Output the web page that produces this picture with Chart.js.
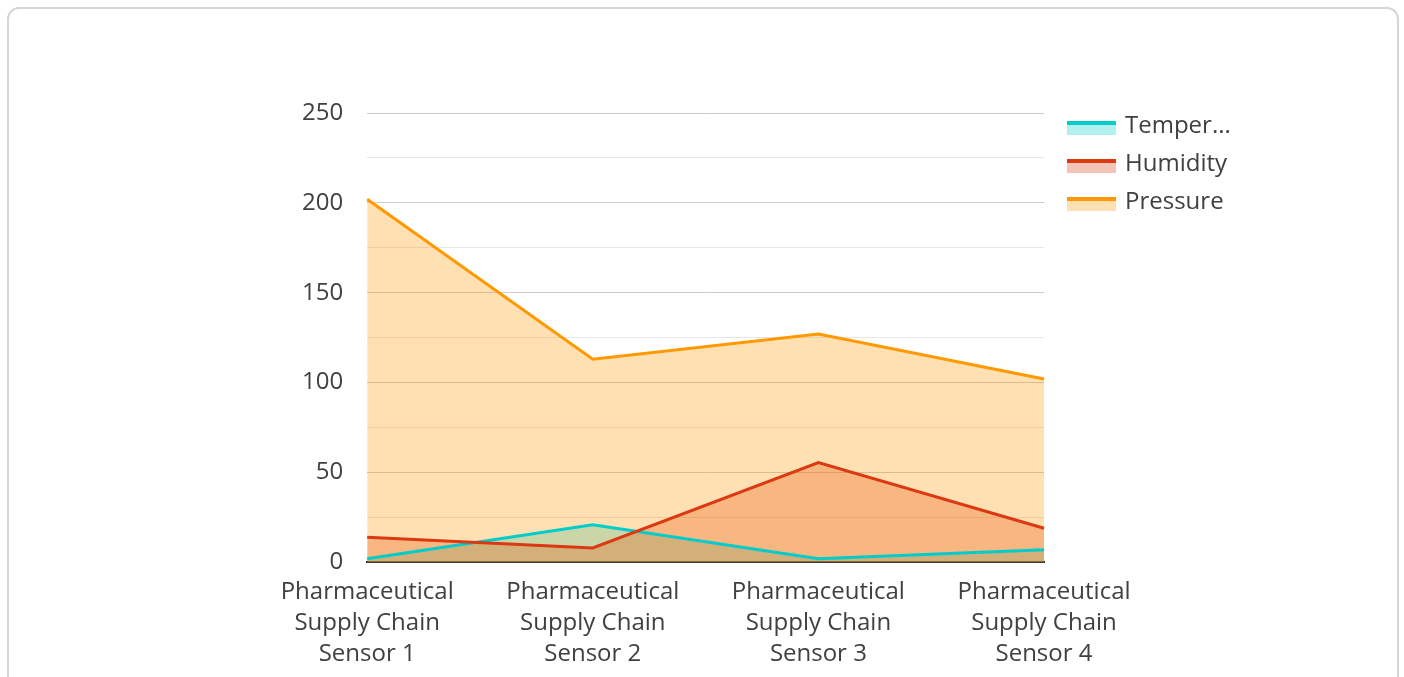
<!DOCTYPE html>
<html>
<head>
<meta charset="utf-8">
<script src="https://cdn.jsdelivr.net/npm/chart.js@4.4.1/dist/chart.umd.min.js"></script>
<style>
  html, body { margin: 0; padding: 0; background: #fff; overflow: hidden; }
  .card {
    position: absolute; left: 7px; top: 7px; width: 1388px; height: 720px;
    border: 2px solid #d6d6d6; border-radius: 12px; box-sizing: content-box;
  }
  #chart { position: absolute; left: 0; top: 0; }
</style>
</head>
<body>
<div class="card"></div>
<canvas id="chart" width="1404" height="688"></canvas>
<script>
// data
const categories = [
  ['Pharmaceutical', 'Supply Chain', 'Sensor 1'],
  ['Pharmaceutical', 'Supply Chain', 'Sensor 2'],
  ['Pharmaceutical', 'Supply Chain', 'Sensor 3'],
  ['Pharmaceutical', 'Supply Chain', 'Sensor 4']
];
const temperature = [2, 21, 2, 7];
const humidity = [14, 8, 55.5, 19];
const pressure = [202, 113, 127, 102];
const seriesNames = ['Temperature', 'Humidity', 'Pressure'];
const legendText = ['Temper...', 'Humidity', 'Pressure'];
const lineColors = ['#00CCCC', '#DC3912', '#FF9900'];
const fillColors = ['rgba(0,204,204,0.3)', 'rgba(220,57,18,0.3)', 'rgba(255,153,0,0.3)'];
// first series at the back, pressure fill painted last
const drawOrder = [2, 1, 0];

const font = "'Open Sans', 'Noto Sans', sans-serif";

function makeSet(i, values) {
  return {
    label: seriesNames[i],
    data: values,
    order: drawOrder[i],
    borderColor: lineColors[i],
    backgroundColor: fillColors[i],
    borderWidth: 3,
    fill: 'origin',
    pointRadius: 0,
    pointHoverRadius: 0,
    tension: 0
  };
}

// legend drawn by hand so it sits next to the plot like the original
const sideLegend = {
  id: 'sideLegend',
  afterDraw(chart) {
    const c = chart.ctx;
    const area = chart.chartArea;
    const x = area.right + 23;
    c.save();
    c.font = '24px ' + font;
    c.textBaseline = 'middle';
    c.textAlign = 'left';
    for (let i = 0; i < legendText.length; i++) {
      const y = area.top + i * 38;
      c.fillStyle = fillColors[i];
      c.fillRect(x, y + 8, 49, 14);
      c.fillStyle = lineColors[i];
      c.fillRect(x, y + 8, 49, 4);
      c.fillStyle = '#404040';
      c.fillText(legendText[i], x + 58, y + 13);
    }
    c.restore();
  }
};

new Chart(document.getElementById('chart'), {
  type: 'line',
  data: {
    labels: categories,
    datasets: [makeSet(0, temperature), makeSet(1, humidity), makeSet(2, pressure)]
  },
  options: {
    responsive: false,
    animation: false,
    layout: { padding: { left: 278, top: 113, right: 360, bottom: 4 } },
    plugins: {
      legend: { display: false },
      tooltip: { enabled: false },
      filler: { drawTime: 'beforeDatasetsDraw' }
    },
    scales: {
      x: {
        grid: { display: false, drawTicks: false },
        border: { display: true, color: '#333', width: 2 },
        ticks: {
          color: '#404040', padding: 14, maxRotation: 0, autoSkip: false,
          font: { family: font, size: 24, lineHeight: 1.3 }
        }
      },
      y: {
        min: 0, max: 250,
        border: { display: false },
        grid: {
          drawTicks: false,
          color: (ctx) => {
            const v = ctx.tick.value;
            if (v === 0) return '#333';
            return v % 50 === 0 ? '#cccccc' : '#e6e6e6';
          }
        },
        ticks: {
          stepSize: 25, padding: 24, color: '#404040',
          font: { family: font, size: 24 },
          callback: (v) => (v % 50 === 0 ? v : '')
        }
      }
    }
  },
  plugins: [sideLegend]
});
</script>
</body>
</html>
